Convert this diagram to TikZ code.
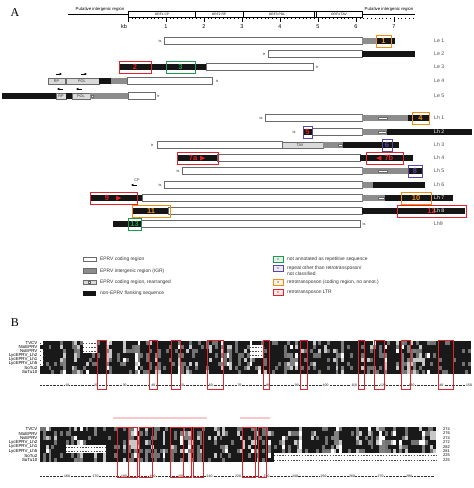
\documentclass[tikz,border=0pt]{standalone}
\usepackage{amssymb}
\usepackage{fontspec}
\setmainfont{Liberation Sans}
\newfontfamily\serifA{Liberation Serif}
\usetikzlibrary{arrows.meta}
\definecolor{cIGR}{HTML}{8C8C8C}
\definecolor{cREA}{HTML}{DADADA}
\definecolor{cFLK}{HTML}{151515}
\definecolor{cOut}{HTML}{6A6A6A}
\definecolor{tagR}{HTML}{E3222B}
\definecolor{tagG}{HTML}{1E9A50}
\definecolor{tagO}{HTML}{EE8E12}
\definecolor{tagP}{HTML}{5B44A3}
\tikzset{
 cod/.style={fill=white, draw=cOut, line width=0.5pt},
 igr/.style={fill=cIGR},
 rea/.style={fill=cREA, draw=cOut, line width=0.4pt},
 flk/.style={fill=cFLK},
 tinyt/.style={font=\fontsize{3.8}{4}\selectfont, inner sep=0.4pt, text=black!80},
 rowlab/.style={font=\fontsize{5.2}{6}\selectfont, anchor=west, inner sep=0pt, text=black!70},
 tagtxt/.style={font=\bfseries\fontsize{7.5}{8}\selectfont, inner sep=0pt},
 leg/.style={font=\fontsize{4.9}{5.5}\selectfont, anchor=west, inner sep=0pt, text=black!80},
 seqname/.style={font=\fontsize{4.4}{4.6}\selectfont, anchor=east, inner sep=0pt},
 rul/.style={font=\fontsize{3.4}{4}\selectfont, inner sep=0.3pt, fill=white},
 orfarrow/.style={line width=0.6pt, -{Latex[length=2.4pt,width=2.6pt]}},
 gapdash/.style={black!70, line width=0.3pt, dash pattern=on 1.4pt off 1.4pt},
}
\newcommand\barseg[4]{\path[#1] (#2,{#4-3.3}) rectangle (#3,{#4+3.3});}
\newcommand\holebox[3]{\path[fill=white, draw=cOut, line width=0.3pt] (#1,{#3-1.3}) rectangle (#2,{#3+1.3});}
\newcommand\tagbox[6]{%
 \draw[#1, line width=0.9pt] (#2,{#4-6}) rectangle (#3,{#4+6});
 \node[tagtxt, text=#6] at ({(#2+#3)/2},#4) {#5};}
\begin{document}
\begin{tikzpicture}[x=1pt,y=-1pt]
\useasboundingbox (0,0) rectangle (474,488);
% ---------------- Part A header
\node[font=\serifA\fontsize{12}{12}\selectfont, inner sep=0pt] (labA) at (15,13) {A};
\node[font=\fontsize{4.3}{5}\selectfont, inner sep=0pt] (pir1) at (100,9) {Putative intergenic region};
\draw[line width=0.5pt] (68,14) -- (128,14);
\node[font=\fontsize{4.3}{5}\selectfont, inner sep=0pt] (pir2) at (389,9) {Putative intergenic region};
\draw[line width=0.5pt] (362,14) -- (415,14);
\draw[line width=0.5pt] (128,11) rectangle (362,17);
\draw[line width=0.5pt] (195,11) -- (195,17) (243,11) -- (243,17) (314,11) -- (314,17) (316,11) -- (316,17);
\node[font=\fontsize{3.3}{4}\selectfont, inner sep=0pt] (o1) at (162,14) {ORF1 CP};
\node[font=\fontsize{3.3}{4}\selectfont, inner sep=0pt] (o2) at (219,14) {ORF2 RP};
\node[font=\fontsize{3.3}{4}\selectfont, inner sep=0pt] (o3) at (277,14) {ORF3 POL};
\node[font=\fontsize{3.3}{4}\selectfont, inner sep=0pt] (o4) at (339,14) {ORF4 TAV};
\foreach \i in {0,...,61}{
  \pgfmathtruncatemacro\mj{mod(\i,10)==0 ? 1 : 0}
  \ifnum\mj=1 \draw[line width=0.4pt] ({128+3.8*\i},17) -- ({128+3.8*\i},21.5);
  \else \draw[line width=0.3pt] ({128+3.8*\i},17) -- ({128+3.8*\i},19.3); \fi
}
\foreach \i in {62,...,75}{
  \pgfmathtruncatemacro\mj{mod(\i,10)==0 ? 1 : 0}
  \ifnum\mj=1 \draw[line width=0.4pt] ({128+3.8*\i},17) -- ({128+3.8*\i},21.5);
  \else \draw[line width=0.3pt] ({128+3.8*\i},17.5) -- ({128+3.8*\i},19.3); \fi
}
\node[font=\fontsize{5.5}{6}\selectfont, inner sep=0pt] (kb) at (124,27) {kb};
\foreach \k in {1,...,7}{\node[font=\fontsize{5.5}{6}\selectfont, inner sep=0pt] at ({128+38*\k},27) {\k};}
% ---------------- rows
% Le 1
\node[tinyt] (t1) at (160,41) {ts};
\barseg{cod}{164}{362}{41}\barseg{igr}{362}{377}{41}\barseg{flk}{377}{395}{41}
\tagbox{tagO}{376}{391}{41}{1}{tagO}
% Le 2
\node[tinyt] (t2) at (264,54) {tr};
\barseg{cod}{268}{362}{54}\barseg{flk}{362}{415}{54}
% Le 3
\barseg{flk}{119}{206}{67}\barseg{cod}{206}{313}{67}
\node[tinyt] (t3) at (317,67) {tr};
\tagbox{tagR}{119}{151}{67}{2}{tagR}
\tagbox{tagG}{166}{195}{67}{3}{tagG}
% Le 4
\barseg{rea}{48}{65}{81}\barseg{rea}{66}{99}{81}\barseg{flk}{99}{111}{81}\barseg{igr}{111}{127}{81}\barseg{cod}{127}{212}{81}
\node[tinyt] at (56.5,81) {RP};\node[tinyt] at (82,81) {POL};
\node[tinyt] (t4) at (217,81) {tr};
\draw[orfarrow] (56,74) -- (62,74);
\draw[orfarrow] (81,74) -- (87,74);
% Le 5
\barseg{flk}{2}{56}{96}\barseg{rea}{56}{66}{96}\barseg{flk}{66}{72}{96}\barseg{rea}{72}{90}{96}\barseg{igr}{90}{128}{96}\barseg{cod}{128}{155}{96}
\holebox{91}{93.5}{96}
\node[tinyt] at (61,96) {RP};\node[tinyt] at (81,96) {POL};
\node[tinyt] (t5) at (158.5,96) {tr};
\draw[orfarrow] (63,89) -- (57,89);
\draw[orfarrow] (82,89) -- (76,89);
% Lh 1
\node[tinyt] (t6) at (261,118) {ts};
\barseg{cod}{265}{362}{118}\barseg{igr}{362}{408}{118}\barseg{flk}{408}{429}{118}
\holebox{378}{387}{118}
\tagbox{tagO}{412}{429}{118}{4}{tagO}
% Lh 2
\node[tinyt] (t7) at (294,132) {ts};
\barseg{flk}{303}{312}{132}\barseg{cod}{312}{362}{132}\barseg{igr}{362}{387}{132}\barseg{flk}{387}{472}{132}
\holebox{378}{386}{132}
\tagbox{tagP}{303}{312}{132}{5}{tagR}
% Lh 3
\node[tinyt] (t8) at (152,145) {tr};
\barseg{cod}{157}{282}{145}\barseg{rea}{282}{323}{145}\barseg{igr}{323}{343}{145}\barseg{flk}{343}{399}{145}
\node[tinyt] at (300,145) {TAV};
\holebox{338}{342}{145}
\tagbox{tagP}{382}{392}{145}{6}{tagP}
% Lh 4
\barseg{flk}{178}{217}{158}\barseg{cod}{217}{360}{158}\barseg{flk}{360}{413}{158}
\tagbox{tagR}{177}{218}{158}{7a $\blacktriangleright$}{tagR}
\tagbox{tagR}{366}{403}{158}{$\blacktriangleleft$ 7b}{tagR}
% Lh 5
\node[tinyt] (t9) at (178,171) {ts};
\barseg{cod}{182}{362}{171}\barseg{igr}{362}{408}{171}\barseg{flk}{408}{422}{171}
\holebox{378}{387}{171}
\tagbox{tagP}{408}{422}{171}{8}{tagP}
% Lh 6
\node[tinyt] (cpl) at (137,180) {CP};
\draw[orfarrow] (137,185) -- (131,185);
\node[tinyt] (t10) at (160,185) {ts};
\barseg{cod}{164}{362}{185}\barseg{igr}{362}{373}{185}\barseg{flk}{373}{425}{185}
% Lh 7
\barseg{flk}{90}{142}{198}\barseg{cod}{142}{362}{198}\barseg{igr}{362}{385}{198}\barseg{flk}{385}{453}{198}
\holebox{378}{384}{198}
\tagbox{tagR}{90}{137}{198}{9 \ \ $\blacktriangleright$}{tagR}
\tagbox{tagO}{401}{431}{198}{10}{tagO}
% Lh 8
\barseg{flk}{133}{168}{211}\barseg{cod}{168}{362}{211}\barseg{flk}{362}{465}{211}
\tagbox{tagO}{132}{170}{211}{11}{tagO}
\tagbox{tagR}{397}{466}{211}{12}{tagR}
% Lh 9
\barseg{flk}{113}{128}{224}\barseg{cod}{141}{360}{224}\barseg{flk}{128}{141}{224}
\tagbox{tagG}{128}{141}{224}{13}{tagG}
\node[tinyt] (t11) at (364,224) {ts};
% row labels
\node[rowlab] (le1) at (434,41) {Le 1};
\node[rowlab] (le2) at (434,54) {Le 2};
\node[rowlab] (le3) at (434,67) {Le 3};
\node[rowlab] (le4) at (434,81) {Le 4};
\node[rowlab] (le5) at (434,96) {Le 5};
\node[rowlab] (lh1) at (434,118) {Lh 1};
\node[rowlab, text=white] (lh2) at (434,132) {Lh 2};
\node[rowlab] (lh3) at (434,145) {Lh 3};
\node[rowlab] (lh4) at (434,158) {Lh 4};
\node[rowlab] (lh5) at (434,171) {Lh 5};
\node[rowlab] (lh6) at (434,185) {Lh 6};
\node[rowlab, text=white] (lh7) at (434,198) {Lh 7};
\node[rowlab, text=white] (lh8) at (434,211) {Lh 8};
\node[rowlab] (lh9) at (434,224) {Lh9};
% ---------------- legend
\path[cod] (83,257) rectangle (96,261.5);
\path[igr, draw=cOut, line width=0.4pt] (83,268.5) rectangle (96,273);
\path[rea] (83,280) rectangle (96,284.5);
\path[fill=white, draw=cOut, line width=0.3pt] (88.5,281) rectangle (90.5,283.5);
\path[flk] (83,291) rectangle (96,295.5);
\node[leg] (l1) at (100,259) {EPRV coding region};
\node[leg] (l2) at (100,271) {EPRV intergenic region (IGR)};
\node[leg] (l3) at (100,282) {EPRV coding region, rearranged};
\node[leg] (l4) at (100,293) {non-EPRV flanking sequence};
\foreach \yy/\cc in {259/tagG,268/tagP,282/tagO,292/tagR}{
  \draw[\cc, fill=\cc!12, line width=0.6pt] (273,{\yy-2.8}) rectangle (283,{\yy+2.8});
  \node[font=\fontsize{3.8}{4}\selectfont, text=black!70, inner sep=0pt] at (278,\yy) {x};
}
\node[leg] (r1) at (287,259) {not annotated as repetitive sequence};
\node[leg] (r2) at (287,268) {repeat other than retrotransposon/};
\node[leg] (r2b) at (287,274) {not classified};
\node[leg] (r3) at (287,282) {retrotransposon (coding region, no annot.)};
\node[leg] (r4) at (287,292) {retrotransposon LTR};
% ---------------- Part B
\node[font=\serifA\fontsize{12}{12}\selectfont, inner sep=0pt] (labB) at (15,323) {B};
\pgfmathsetseed{4242}
% block 1
\foreach \c in {1,...,150}{
  \pgfmathsetmacro\cons{rnd}
  \foreach \r in {0,...,7}{
    \pgfmathsetmacro\v{rnd}
    \pgfmathtruncatemacro\sh{\cons<0.5 ? (\v<0.88 ? 90 : 55) : (\cons<0.78 ? (\v<0.5 ? 90 : (\v<0.85 ? 55 : 22)) : (\v<0.35 ? 90 : (\v<0.65 ? 50 : (\v<0.87 ? 22 : 0))))}
    \fill[black!\sh] ({40+(\c-1)*2.87},{341+\r*4.15}) rectangle ({40+\c*2.87+0.05},{341+(\r+1)*4.15+0.05});
  }
}
% gaps block 1
\foreach \r/\a/\b in {0/1/1,2/1/1,3/1/1,4/1/1,5/1/1,0/16/20,1/16/20,2/16/20,1/74/78,2/74/78,3/74/78}{
  \fill[white] ({40+(\a-1)*2.87},{341+\r*4.15}) rectangle ({40+\b*2.87},{341+(\r+1)*4.15});
  \draw[gapdash] ({40+(\a-1)*2.87},{341+(\r+0.5)*4.15}) -- ({40+\b*2.87},{341+(\r+0.5)*4.15});
}
% block 2
\foreach \c in {151,...,289}{
  \pgfmathsetmacro\cons{rnd}
  \foreach \r in {0,...,7}{
    \pgfmathsetmacro\v{rnd}
    \pgfmathtruncatemacro\sh{\cons<0.5 ? (\v<0.88 ? 90 : 55) : (\cons<0.78 ? (\v<0.5 ? 90 : (\v<0.85 ? 55 : 22)) : (\v<0.35 ? 90 : (\v<0.65 ? 50 : (\v<0.87 ? 22 : 0))))}
    \fill[black!\sh] ({40+(\c-151)*2.85},{427+\r*4.4}) rectangle ({40+(\c-150)*2.85+0.05},{427+(\r+1)*4.4+0.05});
  }
}
\foreach \r/\a/\b in {6/233/289,7/233/289,4/160/173,5/160/173}{
  \fill[white] ({40+(\a-151)*2.85},{427+\r*4.4}) rectangle ({40+(\b-150)*2.85},{427+(\r+1)*4.4});
  \draw[gapdash] ({40+(\a-151)*2.85},{427+(\r+0.5)*4.4}) -- ({40+(\b-150)*2.85},{427+(\r+0.5)*4.4});
}
% sequence names
\foreach \nm [count=\i from 0] in {TVCV,NtoEPRV,NsEPRV,LycEPRV\_Lh2,LycEPRV\_Lh1,LycEPRV\_Lh5,SoTu2,SoTu10}{
  \node[seqname] at (37.5,{343.1+\i*4.15}) {\nm};
  \node[seqname] at (37.5,{429.2+\i*4.4}) {\nm};
}
\foreach \nn [count=\i from 0] in {274,276,274,272,282,281,225,225}{
  \node[font=\fontsize{4}{4.4}\selectfont, anchor=west, inner sep=0pt] at (443,{429.2+\i*4.4}) {\nn};
}
% rulers
\draw[black!80, line width=0.4pt, dash pattern=on 0.5pt off 0.9pt] (40,385) -- (470,385);
\foreach \n in {10,20,...,150}{\node[rul] at ({40+(\n-0.5)*2.87},385) {\n};}
\draw[black!80, line width=0.4pt, dash pattern=on 0.5pt off 0.9pt] (40,476) -- (434,476);
\foreach \n in {160,170,...,280}{\node[rul] at ({40+(\n-150.5)*2.85},476) {\n};}
% red boxes
\foreach \a/\b in {97/106,149/157,171/180,207/223,263/269,300/307,358/364,374/384,401/410,438/453}{
  \draw[tagR, line width=0.8pt] (\a,340) rectangle (\b,389);
}
\foreach \a/\b in {117/128,128/137,139/152,170/183,183/191,193/203,242/255,258/266}{
  \draw[tagR, line width=0.8pt] (\a,427) rectangle (\b,477);
}
\draw[tagR!25, line width=1.2pt] (113,418) -- (207,418);
\draw[tagR!25, line width=1.2pt] (240,418) -- (270,418);
\end{tikzpicture}
\end{document}
